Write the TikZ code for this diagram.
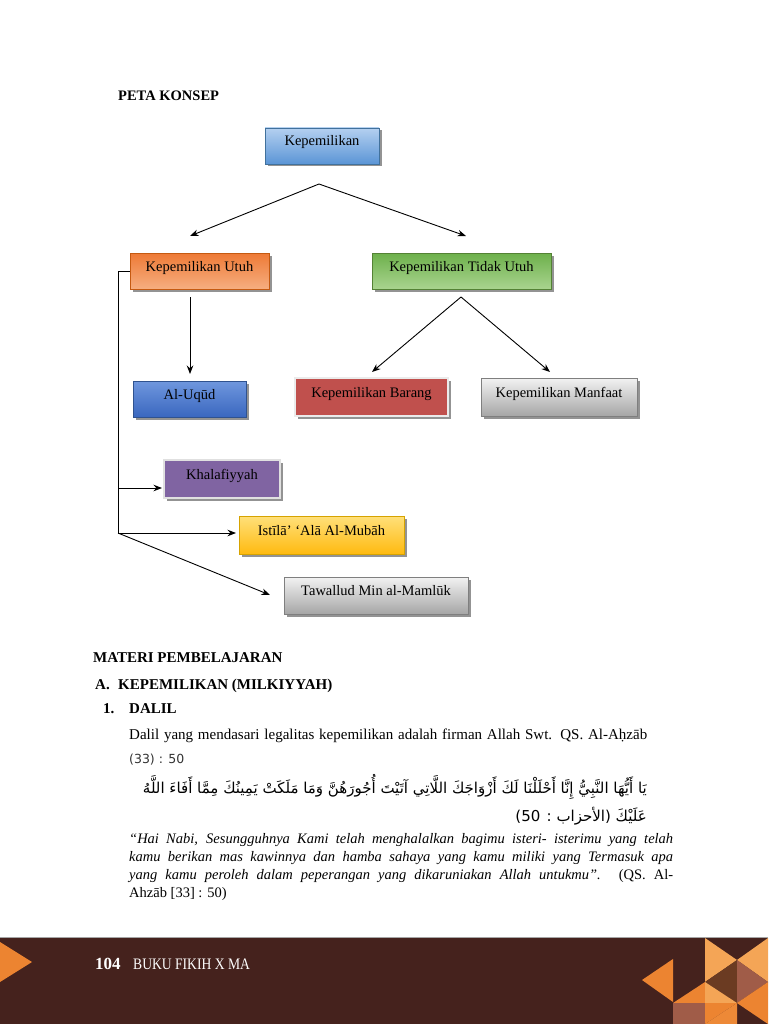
\documentclass[tikz,border=0pt]{standalone}
\usepackage{fontspec}
\setmainfont{Liberation Serif}
\newfontfamily\arabicfont[Script=Arabic]{DejaVu Sans}
\newfontfamily\dvsans{DejaVu Sans}
\usetikzlibrary{arrows.meta,shadows}
\TeXXeTstate=1
\definecolor{kepTop}{HTML}{B4D0F0}
\definecolor{kepBot}{HTML}{5B95D6}
\definecolor{kepDraw}{HTML}{41719C}
\definecolor{utTop}{HTML}{EE7A36}
\definecolor{utBot}{HTML}{F6AE80}
\definecolor{utDraw}{HTML}{C55A11}
\definecolor{tdTop}{HTML}{6DB04B}
\definecolor{tdBot}{HTML}{A9D48F}
\definecolor{tdDraw}{HTML}{548235}
\definecolor{uqTop}{HTML}{6F97DE}
\definecolor{uqBot}{HTML}{3A67BF}
\definecolor{uqDraw}{HTML}{2F528F}
\definecolor{redFill}{HTML}{C0504D}
\definecolor{purFill}{HTML}{8064A2}
\definecolor{grTop}{HTML}{F2F2F2}
\definecolor{grBot}{HTML}{A6A6A6}
\definecolor{grDraw}{HTML}{7F7F7F}
\definecolor{yeTop}{HTML}{FFE07A}
\definecolor{yeBot}{HTML}{FFBA10}
\definecolor{yeDraw}{HTML}{D6A300}
\definecolor{footBg}{HTML}{45221D}
\definecolor{footO}{HTML}{EC8431}
\definecolor{footL}{HTML}{F4A556}
\definecolor{footM}{HTML}{6B3B22}
\definecolor{footP}{HTML}{A05C48}
\begin{document}
\begin{tikzpicture}[x=1pt,y=-1pt,
  boxbase/.style={rectangle, minimum height=36pt, inner sep=2pt, line width=0.6pt,
    text height=10pt, text depth=10pt,
    font=\fontsize{14.5}{16}\selectfont, text=black,
    drop shadow={shadow xshift=2.5pt, shadow yshift=-2.5pt, fill=black!60, opacity=0.7}},
  bluebox/.style={boxbase, top color=kepTop, bottom color=kepBot, draw=kepDraw},
  orangebox/.style={boxbase, top color=utTop, bottom color=utBot, draw=utDraw},
  greenbox/.style={boxbase, top color=tdTop, bottom color=tdBot, draw=tdDraw},
  darkbluebox/.style={boxbase, top color=uqTop, bottom color=uqBot, draw=uqDraw},
  redbox/.style={boxbase, fill=redFill, draw=black!8, line width=1.5pt},
  purplebox/.style={boxbase, fill=purFill, draw=black!12, line width=1.5pt},
  graybox/.style={boxbase, top color=grTop, bottom color=grBot, draw=grDraw},
  yellowbox/.style={boxbase, top color=yeTop, bottom color=yeBot, draw=yeDraw},
  conn/.style={line width=0.9pt, black},
  arr/.style={conn, -{Stealth[length=8.5pt,width=6.5pt]}},
  heading/.style={anchor=base west, inner sep=0pt, font=\fontsize{14.5}{16}\selectfont\bfseries},
  body/.style={anchor=base west, inner sep=0pt, font=\fontsize{15}{18}\selectfont},
  quote/.style={anchor=base west, inner sep=0pt, font=\fontsize{14.5}{18}\selectfont\itshape},
  arab/.style={inner sep=0pt, font=\fontsize{15}{18}\arabicfont},
  foot/.style={anchor=base west, inner sep=0pt, text=white}
]
\useasboundingbox (0,0) rectangle (768,1024);
\fill[white] (0,0) rectangle (768,1024);

% ---------- concept map ----------
\node[heading] (peta) at (118,101) {PETA KONSEP};

\node[bluebox, minimum width=114pt] (kep) at (322,146) {Kepemilikan};
\node[orangebox, minimum width=139pt] (utuh) at (199.5,271) {Kepemilikan Utuh};
\node[greenbox, minimum width=179pt] (tidak) at (461.5,271) {Kepemilikan Tidak Utuh};
\node[darkbluebox, minimum width=113pt] (uqud) at (189.5,399) {Al-Uqūd};
\node[redbox, minimum width=153pt, minimum height=38pt] (barang) at (371.5,397) {Kepemilikan Barang};
\node[graybox, minimum width=156pt, minimum height=38pt] (manfaat) at (559,397) {Kepemilikan Manfaat};
\node[purplebox, minimum width=116pt, minimum height=38pt] (khal) at (222,479) {Khalafiyyah};
\node[yellowbox, minimum width=165pt, minimum height=38pt] (istila) at (321.5,535) {Istīlā’ ‘Alā Al-Mubāh};
\node[graybox, minimum width=184pt, minimum height=37pt] (tawal) at (376,595.5) {Tawallud Min al-Mamlūk};

\coordinate (kf) at (319,184);
\coordinate (kfL) at (190,236);
\coordinate (kfR) at (466,236);
\draw[arr] (kf) -- (kfL);
\draw[arr] (kf) -- (kfR);

\coordinate (u1) at (190,297);
\coordinate (u2) at (190,374);
\draw[arr] (u1) -- (u2);

\coordinate (t0) at (461,297);
\coordinate (t1) at (372,372);
\coordinate (t2) at (550,372);
\draw[arr] (t0) -- (t1);
\draw[arr] (t0) -- (t2);

\coordinate (lk) at (118,488);
\coordinate (lb) at (118,533);
\coordinate (lkE) at (162,488);
\coordinate (liE) at (236,533);
\coordinate (ltE) at (270,595);
\draw[conn] (utuh.west) -| (lb);
\draw[arr] (lk) -- (lkE);
\draw[arr] (lb) -- (liE);
\draw[arr] (lb) -- (ltE);

% ---------- text ----------
\node[heading, font=\fontsize{15}{16}\selectfont\bfseries] (materi) at (93,662) {MATERI PEMBELAJARAN};
\node[heading, font=\fontsize{15}{16}\selectfont\bfseries] (secA) at (95,689) {A.};
\node[heading, font=\fontsize{15}{16}\selectfont\bfseries] (secAt) at (118,689) {KEPEMILIKAN (MILKIYYAH)};
\node[heading, font=\fontsize{15}{16}\selectfont\bfseries] (sec1) at (103,713) {1.};
\node[heading, font=\fontsize{15}{16}\selectfont\bfseries] (sec1t) at (129,713) {DALIL};
\node[body] (dalil1) at (129,739) {\makebox[518pt][s]{Dalil yang mendasari legalitas kepemilikan adalah firman Allah Swt. QS. Al-Aḥzāb}};
\node[body, font=\fontsize{12.5}{16}\dvsans, text=black!80] (dalil2) at (129,763) {(33) : 50};

\node[arab, anchor=east] (ar1) at (647,787) {\beginR يَا أَيُّهَا النَّبِيُّ إِنَّا أَحْلَلْنَا لَكَ أَزْوَاجَكَ اللَّاتِي آتَيْتَ أُجُورَهُنَّ وَمَا مَلَكَتْ يَمِينُكَ مِمَّا أَفَاءَ اللَّهُ\endR};
\node[arab, anchor=east] (ar2) at (647,816) {\beginR عَلَيْكَ (الأحزاب : \beginL 50\endL)\endR};

\node[quote] (q1) at (129,843) {\makebox[544pt][s]{“Hai Nabi, Sesungguhnya Kami telah menghalalkan bagimu isteri- isterimu yang telah}};
\node[quote] (q2) at (129,861) {\makebox[544pt][s]{kamu berikan mas kawinnya dan hamba sahaya yang kamu miliki yang Termasuk apa}};
\node[quote] (q3) at (129,879) {\makebox[544pt][s]{yang kamu peroleh dalam peperangan yang dikaruniakan Allah untukmu”. \upshape (QS. Al-}};
\node[body, font=\fontsize{14.5}{18}\selectfont] (q4) at (129,897) {Ahzāb [33] : 50)};

% ---------- footer ----------
\fill[footBg] (0,938) rectangle (768,1024);
\draw[black!35, line width=1pt] (0,937.5) -- (768,937.5);
\fill[footO] (0,942) -- (32,962) -- (0,982) -- cycle;
\node[foot, font=\fontsize{17}{18}\selectfont\bfseries] (pg) at (95,969) {104};
\node[foot, font=\fontsize{16}{18}\selectfont] (bk) at (133,969) {\scalebox{0.85}[1]{BUKU FIKIH X MA}};

\fill[footO] (642,980) -- (673,959) -- (673,1002) -- cycle;
\fill[footL] (705,938) -- (737,960) -- (705,982) -- cycle;
\fill[footL] (768,938) -- (737,960) -- (768,982) -- cycle;
\fill[footM] (737,960) -- (705,982) -- (737,1003) -- cycle;
\fill[footP] (737,960) -- (768,982) -- (737,1003) -- cycle;
\fill[footO] (673,1003) -- (705,982) -- (705,1003) -- cycle;
\fill[footL] (705,982) -- (737,1003) -- (705,1003) -- cycle;
\fill[footP] (673,1003) -- (705,1003) -- (705,1024) -- (673,1024) -- cycle;
\fill[footO] (705,1003) -- (737,1003) -- (705,1024) -- cycle;
\fill[footO!85!footL] (737,1003) -- (737,1024) -- (705,1024) -- cycle;
\fill[footO] (737,1003) -- (768,982) -- (768,1024) -- cycle;
\end{tikzpicture}
\end{document}
